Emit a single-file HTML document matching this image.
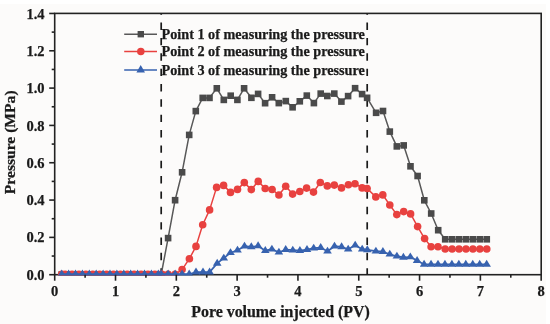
<!DOCTYPE html>
<html><head><meta charset="utf-8"><style>
html,body{margin:0;padding:0;background:#fcfbfa;}
body{width:550px;height:324px;overflow:hidden;position:relative;}
svg{position:absolute;left:0;top:0;}
.t{font-family:"Liberation Serif",serif;font-weight:bold;font-size:14.5px;fill:#1a1a1a;stroke:#1a1a1a;stroke-width:0.25px;}
.lab{font-family:"Liberation Serif",serif;font-weight:bold;font-size:15.9px;fill:#1a1a1a;stroke:#1a1a1a;stroke-width:0.25px;}
.leg{font-family:"Liberation Serif",serif;font-weight:bold;font-size:14.2px;fill:#1a1a1a;stroke:#1a1a1a;stroke-width:0.25px;}
</style></head><body>
<svg width="550" height="324" viewBox="0 0 550 324">
<rect x="0" y="0" width="550" height="4" fill="#ffffff"/>
<rect x="546" y="0" width="4" height="324" fill="#ffffff"/>
<rect x="54.7" y="13.4" width="486.50000000000006" height="261.3" fill="none" stroke="#222222" stroke-width="1.6"/><line x1="161.2" y1="13.4" x2="161.2" y2="274.7" stroke="#1a1a1a" stroke-width="1.7" stroke-dasharray="7.4 7.95" stroke-dashoffset="6.15"/><line x1="367.2" y1="13.4" x2="367.2" y2="274.7" stroke="#1a1a1a" stroke-width="1.7" stroke-dasharray="7.4 7.95" stroke-dashoffset="6.15"/><defs><clipPath id="pc"><rect x="54" y="12.6" width="487.8" height="262.9"/></clipPath></defs><g clip-path="url(#pc)"><polyline points="61.7,274.5 68.6,274.5 75.5,274.5 82.4,274.5 89.3,274.5 96.2,274.5 103.1,274.5 110.0,274.5 116.9,274.5 123.8,274.5 130.7,274.5 137.6,274.5 144.5,274.5 151.4,274.5 158.3,274.5 161.2,274.5 168.1,238.1 175.1,200.2 182.1,172.3 189.2,134.9 195.8,111.1 202.7,97.9 209.5,97.9 216.8,88.3 223.8,99.9 230.7,95.7 237.4,99.9 244.1,88.3 251.4,97.8 258.1,93.9 265.1,103.2 272.1,97.3 278.8,103.1 285.8,101.1 292.6,107.3 299.8,101.3 306.8,95.6 313.9,103.1 320.7,93.6 327.3,96.0 334.3,93.6 341.4,101.6 348.1,96.1 355.1,88.2 362.1,94.1 367.1,97.8 376.1,112.8 383.0,111.0 389.8,131.6 396.8,146.4 403.7,145.4 410.5,166.3 417.6,176.0 424.3,200.3 431.2,213.5 438.2,230.2 445.2,239.3 452.1,239.3 459.1,239.3 466.0,239.3 472.9,239.3 479.8,239.3 486.8,239.3" fill="none" stroke="#585858" stroke-width="1.5" stroke-linejoin="round"/><rect x="58.40" y="271.20" width="6.6" height="6.6" fill="#4a4a4a"/><rect x="65.30" y="271.20" width="6.6" height="6.6" fill="#4a4a4a"/><rect x="72.20" y="271.20" width="6.6" height="6.6" fill="#4a4a4a"/><rect x="79.10" y="271.20" width="6.6" height="6.6" fill="#4a4a4a"/><rect x="86.00" y="271.20" width="6.6" height="6.6" fill="#4a4a4a"/><rect x="92.90" y="271.20" width="6.6" height="6.6" fill="#4a4a4a"/><rect x="99.80" y="271.20" width="6.6" height="6.6" fill="#4a4a4a"/><rect x="106.70" y="271.20" width="6.6" height="6.6" fill="#4a4a4a"/><rect x="113.60" y="271.20" width="6.6" height="6.6" fill="#4a4a4a"/><rect x="120.50" y="271.20" width="6.6" height="6.6" fill="#4a4a4a"/><rect x="127.40" y="271.20" width="6.6" height="6.6" fill="#4a4a4a"/><rect x="134.30" y="271.20" width="6.6" height="6.6" fill="#4a4a4a"/><rect x="141.20" y="271.20" width="6.6" height="6.6" fill="#4a4a4a"/><rect x="148.10" y="271.20" width="6.6" height="6.6" fill="#4a4a4a"/><rect x="155.00" y="271.20" width="6.6" height="6.6" fill="#4a4a4a"/><rect x="157.90" y="271.20" width="6.6" height="6.6" fill="#4a4a4a"/><rect x="164.80" y="234.80" width="6.6" height="6.6" fill="#4a4a4a"/><rect x="171.80" y="196.90" width="6.6" height="6.6" fill="#4a4a4a"/><rect x="178.80" y="169.00" width="6.6" height="6.6" fill="#4a4a4a"/><rect x="185.90" y="131.60" width="6.6" height="6.6" fill="#4a4a4a"/><rect x="192.50" y="107.80" width="6.6" height="6.6" fill="#4a4a4a"/><rect x="199.40" y="94.60" width="6.6" height="6.6" fill="#4a4a4a"/><rect x="206.20" y="94.60" width="6.6" height="6.6" fill="#4a4a4a"/><rect x="213.50" y="85.00" width="6.6" height="6.6" fill="#4a4a4a"/><rect x="220.50" y="96.60" width="6.6" height="6.6" fill="#4a4a4a"/><rect x="227.40" y="92.40" width="6.6" height="6.6" fill="#4a4a4a"/><rect x="234.10" y="96.60" width="6.6" height="6.6" fill="#4a4a4a"/><rect x="240.80" y="85.00" width="6.6" height="6.6" fill="#4a4a4a"/><rect x="248.10" y="94.50" width="6.6" height="6.6" fill="#4a4a4a"/><rect x="254.80" y="90.60" width="6.6" height="6.6" fill="#4a4a4a"/><rect x="261.80" y="99.90" width="6.6" height="6.6" fill="#4a4a4a"/><rect x="268.80" y="94.00" width="6.6" height="6.6" fill="#4a4a4a"/><rect x="275.50" y="99.80" width="6.6" height="6.6" fill="#4a4a4a"/><rect x="282.50" y="97.80" width="6.6" height="6.6" fill="#4a4a4a"/><rect x="289.30" y="104.00" width="6.6" height="6.6" fill="#4a4a4a"/><rect x="296.50" y="98.00" width="6.6" height="6.6" fill="#4a4a4a"/><rect x="303.50" y="92.30" width="6.6" height="6.6" fill="#4a4a4a"/><rect x="310.60" y="99.80" width="6.6" height="6.6" fill="#4a4a4a"/><rect x="317.40" y="90.30" width="6.6" height="6.6" fill="#4a4a4a"/><rect x="324.00" y="92.70" width="6.6" height="6.6" fill="#4a4a4a"/><rect x="331.00" y="90.30" width="6.6" height="6.6" fill="#4a4a4a"/><rect x="338.10" y="98.30" width="6.6" height="6.6" fill="#4a4a4a"/><rect x="344.80" y="92.80" width="6.6" height="6.6" fill="#4a4a4a"/><rect x="351.80" y="84.90" width="6.6" height="6.6" fill="#4a4a4a"/><rect x="358.80" y="90.80" width="6.6" height="6.6" fill="#4a4a4a"/><rect x="363.80" y="94.50" width="6.6" height="6.6" fill="#4a4a4a"/><rect x="372.80" y="109.50" width="6.6" height="6.6" fill="#4a4a4a"/><rect x="379.70" y="107.70" width="6.6" height="6.6" fill="#4a4a4a"/><rect x="386.50" y="128.30" width="6.6" height="6.6" fill="#4a4a4a"/><rect x="393.50" y="143.10" width="6.6" height="6.6" fill="#4a4a4a"/><rect x="400.40" y="142.10" width="6.6" height="6.6" fill="#4a4a4a"/><rect x="407.20" y="163.00" width="6.6" height="6.6" fill="#4a4a4a"/><rect x="414.30" y="172.70" width="6.6" height="6.6" fill="#4a4a4a"/><rect x="421.00" y="197.00" width="6.6" height="6.6" fill="#4a4a4a"/><rect x="427.90" y="210.20" width="6.6" height="6.6" fill="#4a4a4a"/><rect x="434.90" y="226.90" width="6.6" height="6.6" fill="#4a4a4a"/><rect x="441.90" y="236.00" width="6.6" height="6.6" fill="#4a4a4a"/><rect x="448.83" y="236.00" width="6.6" height="6.6" fill="#4a4a4a"/><rect x="455.76" y="236.00" width="6.6" height="6.6" fill="#4a4a4a"/><rect x="462.69" y="236.00" width="6.6" height="6.6" fill="#4a4a4a"/><rect x="469.62" y="236.00" width="6.6" height="6.6" fill="#4a4a4a"/><rect x="476.55" y="236.00" width="6.6" height="6.6" fill="#4a4a4a"/><rect x="483.48" y="236.00" width="6.6" height="6.6" fill="#4a4a4a"/><polyline points="61.7,274.3 65.2,274.3 72.1,274.3 79.0,274.3 85.9,274.3 92.8,274.3 99.7,274.3 106.6,274.3 113.5,274.3 120.4,274.3 127.3,274.3 134.1,274.3 141.1,274.3 147.9,274.3 154.8,274.3 161.8,274.3 161.2,274.3 168.1,274.3 175.1,274.3 182.1,269.6 189.4,258.7 196.0,246.4 202.7,224.7 209.6,209.9 216.6,187.4 223.6,185.4 230.5,192.4 237.5,189.4 244.3,182.6 251.3,189.6 258.2,181.4 265.2,188.5 272.1,189.5 278.9,195.0 285.7,186.3 292.6,194.1 299.8,191.5 306.6,188.1 313.5,192.1 320.3,182.5 327.3,185.9 334.3,185.1 341.5,187.9 348.4,184.7 355.0,183.7 362.1,187.9 367.1,188.5 375.8,196.9 382.8,194.9 389.8,205.0 396.8,214.6 403.7,211.6 410.6,213.9 417.6,226.6 424.6,238.6 431.1,246.8 438.0,246.8 445.2,249.0 452.1,249.0 459.1,249.0 466.0,249.0 472.9,249.0 479.8,249.0 486.8,249.0" fill="none" stroke="#e8413f" stroke-width="1.5" stroke-linejoin="round"/><circle cx="61.70" cy="274.30" r="3.8" fill="#e8413f"/><circle cx="65.15" cy="274.30" r="3.8" fill="#e8413f"/><circle cx="72.05" cy="274.30" r="3.8" fill="#e8413f"/><circle cx="78.95" cy="274.30" r="3.8" fill="#e8413f"/><circle cx="85.85" cy="274.30" r="3.8" fill="#e8413f"/><circle cx="92.75" cy="274.30" r="3.8" fill="#e8413f"/><circle cx="99.65" cy="274.30" r="3.8" fill="#e8413f"/><circle cx="106.55" cy="274.30" r="3.8" fill="#e8413f"/><circle cx="113.45" cy="274.30" r="3.8" fill="#e8413f"/><circle cx="120.35" cy="274.30" r="3.8" fill="#e8413f"/><circle cx="127.25" cy="274.30" r="3.8" fill="#e8413f"/><circle cx="134.15" cy="274.30" r="3.8" fill="#e8413f"/><circle cx="141.05" cy="274.30" r="3.8" fill="#e8413f"/><circle cx="147.95" cy="274.30" r="3.8" fill="#e8413f"/><circle cx="154.85" cy="274.30" r="3.8" fill="#e8413f"/><circle cx="161.75" cy="274.30" r="3.8" fill="#e8413f"/><circle cx="161.20" cy="274.30" r="3.8" fill="#e8413f"/><circle cx="168.10" cy="274.30" r="3.8" fill="#e8413f"/><circle cx="175.10" cy="274.30" r="3.8" fill="#e8413f"/><circle cx="182.10" cy="269.60" r="3.8" fill="#e8413f"/><circle cx="189.40" cy="258.70" r="3.8" fill="#e8413f"/><circle cx="196.00" cy="246.40" r="3.8" fill="#e8413f"/><circle cx="202.70" cy="224.70" r="3.8" fill="#e8413f"/><circle cx="209.60" cy="209.90" r="3.8" fill="#e8413f"/><circle cx="216.60" cy="187.40" r="3.8" fill="#e8413f"/><circle cx="223.60" cy="185.40" r="3.8" fill="#e8413f"/><circle cx="230.50" cy="192.40" r="3.8" fill="#e8413f"/><circle cx="237.50" cy="189.40" r="3.8" fill="#e8413f"/><circle cx="244.30" cy="182.60" r="3.8" fill="#e8413f"/><circle cx="251.30" cy="189.60" r="3.8" fill="#e8413f"/><circle cx="258.20" cy="181.40" r="3.8" fill="#e8413f"/><circle cx="265.20" cy="188.50" r="3.8" fill="#e8413f"/><circle cx="272.10" cy="189.50" r="3.8" fill="#e8413f"/><circle cx="278.90" cy="195.00" r="3.8" fill="#e8413f"/><circle cx="285.70" cy="186.30" r="3.8" fill="#e8413f"/><circle cx="292.60" cy="194.10" r="3.8" fill="#e8413f"/><circle cx="299.80" cy="191.50" r="3.8" fill="#e8413f"/><circle cx="306.60" cy="188.10" r="3.8" fill="#e8413f"/><circle cx="313.50" cy="192.10" r="3.8" fill="#e8413f"/><circle cx="320.30" cy="182.50" r="3.8" fill="#e8413f"/><circle cx="327.30" cy="185.90" r="3.8" fill="#e8413f"/><circle cx="334.30" cy="185.10" r="3.8" fill="#e8413f"/><circle cx="341.50" cy="187.90" r="3.8" fill="#e8413f"/><circle cx="348.40" cy="184.70" r="3.8" fill="#e8413f"/><circle cx="355.00" cy="183.70" r="3.8" fill="#e8413f"/><circle cx="362.10" cy="187.90" r="3.8" fill="#e8413f"/><circle cx="367.10" cy="188.50" r="3.8" fill="#e8413f"/><circle cx="375.80" cy="196.90" r="3.8" fill="#e8413f"/><circle cx="382.80" cy="194.90" r="3.8" fill="#e8413f"/><circle cx="389.80" cy="205.00" r="3.8" fill="#e8413f"/><circle cx="396.80" cy="214.60" r="3.8" fill="#e8413f"/><circle cx="403.70" cy="211.60" r="3.8" fill="#e8413f"/><circle cx="410.60" cy="213.90" r="3.8" fill="#e8413f"/><circle cx="417.60" cy="226.60" r="3.8" fill="#e8413f"/><circle cx="424.60" cy="238.60" r="3.8" fill="#e8413f"/><circle cx="431.10" cy="246.80" r="3.8" fill="#e8413f"/><circle cx="438.00" cy="246.80" r="3.8" fill="#e8413f"/><circle cx="445.20" cy="249.00" r="3.8" fill="#e8413f"/><circle cx="452.13" cy="249.00" r="3.8" fill="#e8413f"/><circle cx="459.06" cy="249.00" r="3.8" fill="#e8413f"/><circle cx="465.99" cy="249.00" r="3.8" fill="#e8413f"/><circle cx="472.92" cy="249.00" r="3.8" fill="#e8413f"/><circle cx="479.85" cy="249.00" r="3.8" fill="#e8413f"/><circle cx="486.78" cy="249.00" r="3.8" fill="#e8413f"/><polyline points="61.7,274.2 68.6,274.2 75.5,274.2 82.4,274.2 89.3,274.2 96.2,274.2 103.1,274.2 110.0,274.2 116.9,274.2 123.8,274.2 130.7,274.2 137.6,274.2 144.5,274.2 151.4,274.2 158.3,274.2 161.2,274.2 168.1,274.2 175.1,274.2 182.1,274.2 189.2,274.2 196.0,272.1 203.0,272.1 209.6,272.1 217.2,263.4 223.8,258.2 230.5,252.8 237.5,250.2 244.5,246.2 251.3,246.8 258.1,246.0 265.3,250.7 271.9,249.2 278.9,252.2 285.7,249.7 292.8,250.2 299.9,250.7 307.0,249.7 313.7,248.2 320.7,247.7 327.5,251.2 334.5,246.2 341.6,246.8 348.2,249.2 355.2,245.2 362.2,249.2 367.3,249.8 375.9,251.2 382.9,251.7 389.8,254.2 396.9,256.2 403.4,257.4 410.3,257.1 417.1,260.6 424.1,264.4 431.1,264.4 438.0,264.4 445.0,264.4 451.9,264.4 458.9,264.4 465.8,264.4 472.8,264.4 479.7,264.4 486.7,264.4" fill="none" stroke="#3762af" stroke-width="1.7" stroke-linejoin="round"/><path d="M61.70 269.60L66.00 276.50L57.40 276.50Z" fill="#3762af"/><path d="M68.60 269.60L72.90 276.50L64.30 276.50Z" fill="#3762af"/><path d="M75.50 269.60L79.80 276.50L71.20 276.50Z" fill="#3762af"/><path d="M82.40 269.60L86.70 276.50L78.10 276.50Z" fill="#3762af"/><path d="M89.30 269.60L93.60 276.50L85.00 276.50Z" fill="#3762af"/><path d="M96.20 269.60L100.50 276.50L91.90 276.50Z" fill="#3762af"/><path d="M103.10 269.60L107.40 276.50L98.80 276.50Z" fill="#3762af"/><path d="M110.00 269.60L114.30 276.50L105.70 276.50Z" fill="#3762af"/><path d="M116.90 269.60L121.20 276.50L112.60 276.50Z" fill="#3762af"/><path d="M123.80 269.60L128.10 276.50L119.50 276.50Z" fill="#3762af"/><path d="M130.70 269.60L135.00 276.50L126.40 276.50Z" fill="#3762af"/><path d="M137.60 269.60L141.90 276.50L133.30 276.50Z" fill="#3762af"/><path d="M144.50 269.60L148.80 276.50L140.20 276.50Z" fill="#3762af"/><path d="M151.40 269.60L155.70 276.50L147.10 276.50Z" fill="#3762af"/><path d="M158.30 269.60L162.60 276.50L154.00 276.50Z" fill="#3762af"/><path d="M161.20 269.60L165.50 276.50L156.90 276.50Z" fill="#3762af"/><path d="M168.10 269.60L172.40 276.50L163.80 276.50Z" fill="#3762af"/><path d="M175.10 269.60L179.40 276.50L170.80 276.50Z" fill="#3762af"/><path d="M182.10 269.60L186.40 276.50L177.80 276.50Z" fill="#3762af"/><path d="M189.20 269.60L193.50 276.50L184.90 276.50Z" fill="#3762af"/><path d="M196.00 267.50L200.30 274.40L191.70 274.40Z" fill="#3762af"/><path d="M203.00 267.50L207.30 274.40L198.70 274.40Z" fill="#3762af"/><path d="M209.60 267.50L213.90 274.40L205.30 274.40Z" fill="#3762af"/><path d="M217.20 258.85L221.50 265.75L212.90 265.75Z" fill="#3762af"/><path d="M223.80 253.65L228.10 260.55L219.50 260.55Z" fill="#3762af"/><path d="M230.50 248.15L234.80 255.05L226.20 255.05Z" fill="#3762af"/><path d="M237.50 245.65L241.80 252.55L233.20 252.55Z" fill="#3762af"/><path d="M244.50 241.65L248.80 248.55L240.20 248.55Z" fill="#3762af"/><path d="M251.30 242.25L255.60 249.15L247.00 249.15Z" fill="#3762af"/><path d="M258.10 241.35L262.40 248.25L253.80 248.25Z" fill="#3762af"/><path d="M265.30 246.05L269.60 252.95L261.00 252.95Z" fill="#3762af"/><path d="M271.90 244.65L276.20 251.55L267.60 251.55Z" fill="#3762af"/><path d="M278.90 247.65L283.20 254.55L274.60 254.55Z" fill="#3762af"/><path d="M285.70 245.05L290.00 251.95L281.40 251.95Z" fill="#3762af"/><path d="M292.80 245.65L297.10 252.55L288.50 252.55Z" fill="#3762af"/><path d="M299.90 246.05L304.20 252.95L295.60 252.95Z" fill="#3762af"/><path d="M307.00 245.05L311.30 251.95L302.70 251.95Z" fill="#3762af"/><path d="M313.70 243.65L318.00 250.55L309.40 250.55Z" fill="#3762af"/><path d="M320.70 243.05L325.00 249.95L316.40 249.95Z" fill="#3762af"/><path d="M327.50 246.65L331.80 253.55L323.20 253.55Z" fill="#3762af"/><path d="M334.50 241.65L338.80 248.55L330.20 248.55Z" fill="#3762af"/><path d="M341.60 242.25L345.90 249.15L337.30 249.15Z" fill="#3762af"/><path d="M348.20 244.65L352.50 251.55L343.90 251.55Z" fill="#3762af"/><path d="M355.20 240.65L359.50 247.55L350.90 247.55Z" fill="#3762af"/><path d="M362.20 244.65L366.50 251.55L357.90 251.55Z" fill="#3762af"/><path d="M367.30 245.25L371.60 252.15L363.00 252.15Z" fill="#3762af"/><path d="M375.90 246.65L380.20 253.55L371.60 253.55Z" fill="#3762af"/><path d="M382.90 247.05L387.20 253.95L378.60 253.95Z" fill="#3762af"/><path d="M389.80 249.65L394.10 256.55L385.50 256.55Z" fill="#3762af"/><path d="M396.90 251.65L401.20 258.55L392.60 258.55Z" fill="#3762af"/><path d="M403.40 252.85L407.70 259.75L399.10 259.75Z" fill="#3762af"/><path d="M410.30 252.45L414.60 259.35L406.00 259.35Z" fill="#3762af"/><path d="M417.10 256.05L421.40 262.95L412.80 262.95Z" fill="#3762af"/><path d="M424.10 259.85L428.40 266.75L419.80 266.75Z" fill="#3762af"/><path d="M431.05 259.85L435.35 266.75L426.75 266.75Z" fill="#3762af"/><path d="M438.00 259.85L442.30 266.75L433.70 266.75Z" fill="#3762af"/><path d="M444.95 259.85L449.25 266.75L440.65 266.75Z" fill="#3762af"/><path d="M451.90 259.85L456.20 266.75L447.60 266.75Z" fill="#3762af"/><path d="M458.85 259.85L463.15 266.75L454.55 266.75Z" fill="#3762af"/><path d="M465.80 259.85L470.10 266.75L461.50 266.75Z" fill="#3762af"/><path d="M472.75 259.85L477.05 266.75L468.45 266.75Z" fill="#3762af"/><path d="M479.70 259.85L484.00 266.75L475.40 266.75Z" fill="#3762af"/><path d="M486.65 259.85L490.95 266.75L482.35 266.75Z" fill="#3762af"/></g><text x="44.6" y="279.80" text-anchor="end" class="t">0.0</text><text x="44.6" y="242.48" text-anchor="end" class="t">0.2</text><text x="44.6" y="205.16" text-anchor="end" class="t">0.4</text><text x="44.6" y="167.84" text-anchor="end" class="t">0.6</text><text x="44.6" y="130.52" text-anchor="end" class="t">0.8</text><text x="44.6" y="93.20" text-anchor="end" class="t">1.0</text><text x="44.6" y="55.88" text-anchor="end" class="t">1.2</text><text x="44.6" y="18.56" text-anchor="end" class="t">1.4</text><text x="54.70" y="296" text-anchor="middle" class="t">0</text><text x="115.51" y="296" text-anchor="middle" class="t">1</text><text x="176.32" y="296" text-anchor="middle" class="t">2</text><text x="237.13" y="296" text-anchor="middle" class="t">3</text><text x="297.94" y="296" text-anchor="middle" class="t">4</text><text x="358.75" y="296" text-anchor="middle" class="t">5</text><text x="419.56" y="296" text-anchor="middle" class="t">6</text><text x="480.37" y="296" text-anchor="middle" class="t">7</text><text x="541.18" y="296" text-anchor="middle" class="t">8</text><line x1="49.2" y1="274.70" x2="54.7" y2="274.70" stroke="#222222" stroke-width="1.6"/><line x1="49.2" y1="237.38" x2="54.7" y2="237.38" stroke="#222222" stroke-width="1.6"/><line x1="49.2" y1="200.06" x2="54.7" y2="200.06" stroke="#222222" stroke-width="1.6"/><line x1="49.2" y1="162.74" x2="54.7" y2="162.74" stroke="#222222" stroke-width="1.6"/><line x1="49.2" y1="125.42" x2="54.7" y2="125.42" stroke="#222222" stroke-width="1.6"/><line x1="49.2" y1="88.10" x2="54.7" y2="88.10" stroke="#222222" stroke-width="1.6"/><line x1="49.2" y1="50.78" x2="54.7" y2="50.78" stroke="#222222" stroke-width="1.6"/><line x1="49.2" y1="13.46" x2="54.7" y2="13.46" stroke="#222222" stroke-width="1.6"/><line x1="51.7" y1="256.04" x2="54.7" y2="256.04" stroke="#222222" stroke-width="1.6"/><line x1="51.7" y1="218.72" x2="54.7" y2="218.72" stroke="#222222" stroke-width="1.6"/><line x1="51.7" y1="181.40" x2="54.7" y2="181.40" stroke="#222222" stroke-width="1.6"/><line x1="51.7" y1="144.08" x2="54.7" y2="144.08" stroke="#222222" stroke-width="1.6"/><line x1="51.7" y1="106.76" x2="54.7" y2="106.76" stroke="#222222" stroke-width="1.6"/><line x1="51.7" y1="69.44" x2="54.7" y2="69.44" stroke="#222222" stroke-width="1.6"/><line x1="51.7" y1="32.12" x2="54.7" y2="32.12" stroke="#222222" stroke-width="1.6"/><line x1="54.70" y1="274.7" x2="54.70" y2="280.7" stroke="#222222" stroke-width="1.6"/><line x1="115.51" y1="274.7" x2="115.51" y2="280.7" stroke="#222222" stroke-width="1.6"/><line x1="176.32" y1="274.7" x2="176.32" y2="280.7" stroke="#222222" stroke-width="1.6"/><line x1="237.13" y1="274.7" x2="237.13" y2="280.7" stroke="#222222" stroke-width="1.6"/><line x1="297.94" y1="274.7" x2="297.94" y2="280.7" stroke="#222222" stroke-width="1.6"/><line x1="358.75" y1="274.7" x2="358.75" y2="280.7" stroke="#222222" stroke-width="1.6"/><line x1="419.56" y1="274.7" x2="419.56" y2="280.7" stroke="#222222" stroke-width="1.6"/><line x1="480.37" y1="274.7" x2="480.37" y2="280.7" stroke="#222222" stroke-width="1.6"/><line x1="541.18" y1="274.7" x2="541.18" y2="280.7" stroke="#222222" stroke-width="1.6"/><line x1="85.11" y1="274.7" x2="85.11" y2="277.7" stroke="#222222" stroke-width="1.6"/><line x1="145.92" y1="274.7" x2="145.92" y2="277.7" stroke="#222222" stroke-width="1.6"/><line x1="206.73" y1="274.7" x2="206.73" y2="277.7" stroke="#222222" stroke-width="1.6"/><line x1="267.54" y1="274.7" x2="267.54" y2="277.7" stroke="#222222" stroke-width="1.6"/><line x1="328.34" y1="274.7" x2="328.34" y2="277.7" stroke="#222222" stroke-width="1.6"/><line x1="389.16" y1="274.7" x2="389.16" y2="277.7" stroke="#222222" stroke-width="1.6"/><line x1="449.96" y1="274.7" x2="449.96" y2="277.7" stroke="#222222" stroke-width="1.6"/><line x1="510.78" y1="274.7" x2="510.78" y2="277.7" stroke="#222222" stroke-width="1.6"/><text x="280.5" y="316.5" text-anchor="middle" class="lab">Pore volume injected (PV)</text><text transform="translate(15,142.3) rotate(-90)" text-anchor="middle" class="lab" style="font-size:15.6px">Pressure (MPa)</text><line x1="124.2" y1="34.2" x2="157" y2="34.2" stroke="#585858" stroke-width="1.5"/><rect x="137.60" y="31.00" width="6.4" height="6.4" fill="#4a4a4a"/><text x="161.6" y="38.6" class="leg">Point 1 of measuring the pressure</text><line x1="124.2" y1="51.4" x2="157" y2="51.4" stroke="#e8413f" stroke-width="1.5"/><circle cx="140.80" cy="51.40" r="3.75" fill="#e8413f"/><text x="161.6" y="56.2" class="leg">Point 2 of measuring the pressure</text><line x1="124.2" y1="69.9" x2="157" y2="69.9" stroke="#3762af" stroke-width="1.5"/><path d="M140.70 64.90L145.00 72.40L136.40 72.40Z" fill="#3762af"/><text x="161.6" y="74.6" class="leg">Point 3 of measuring the pressure</text>
</svg>
</body></html>
